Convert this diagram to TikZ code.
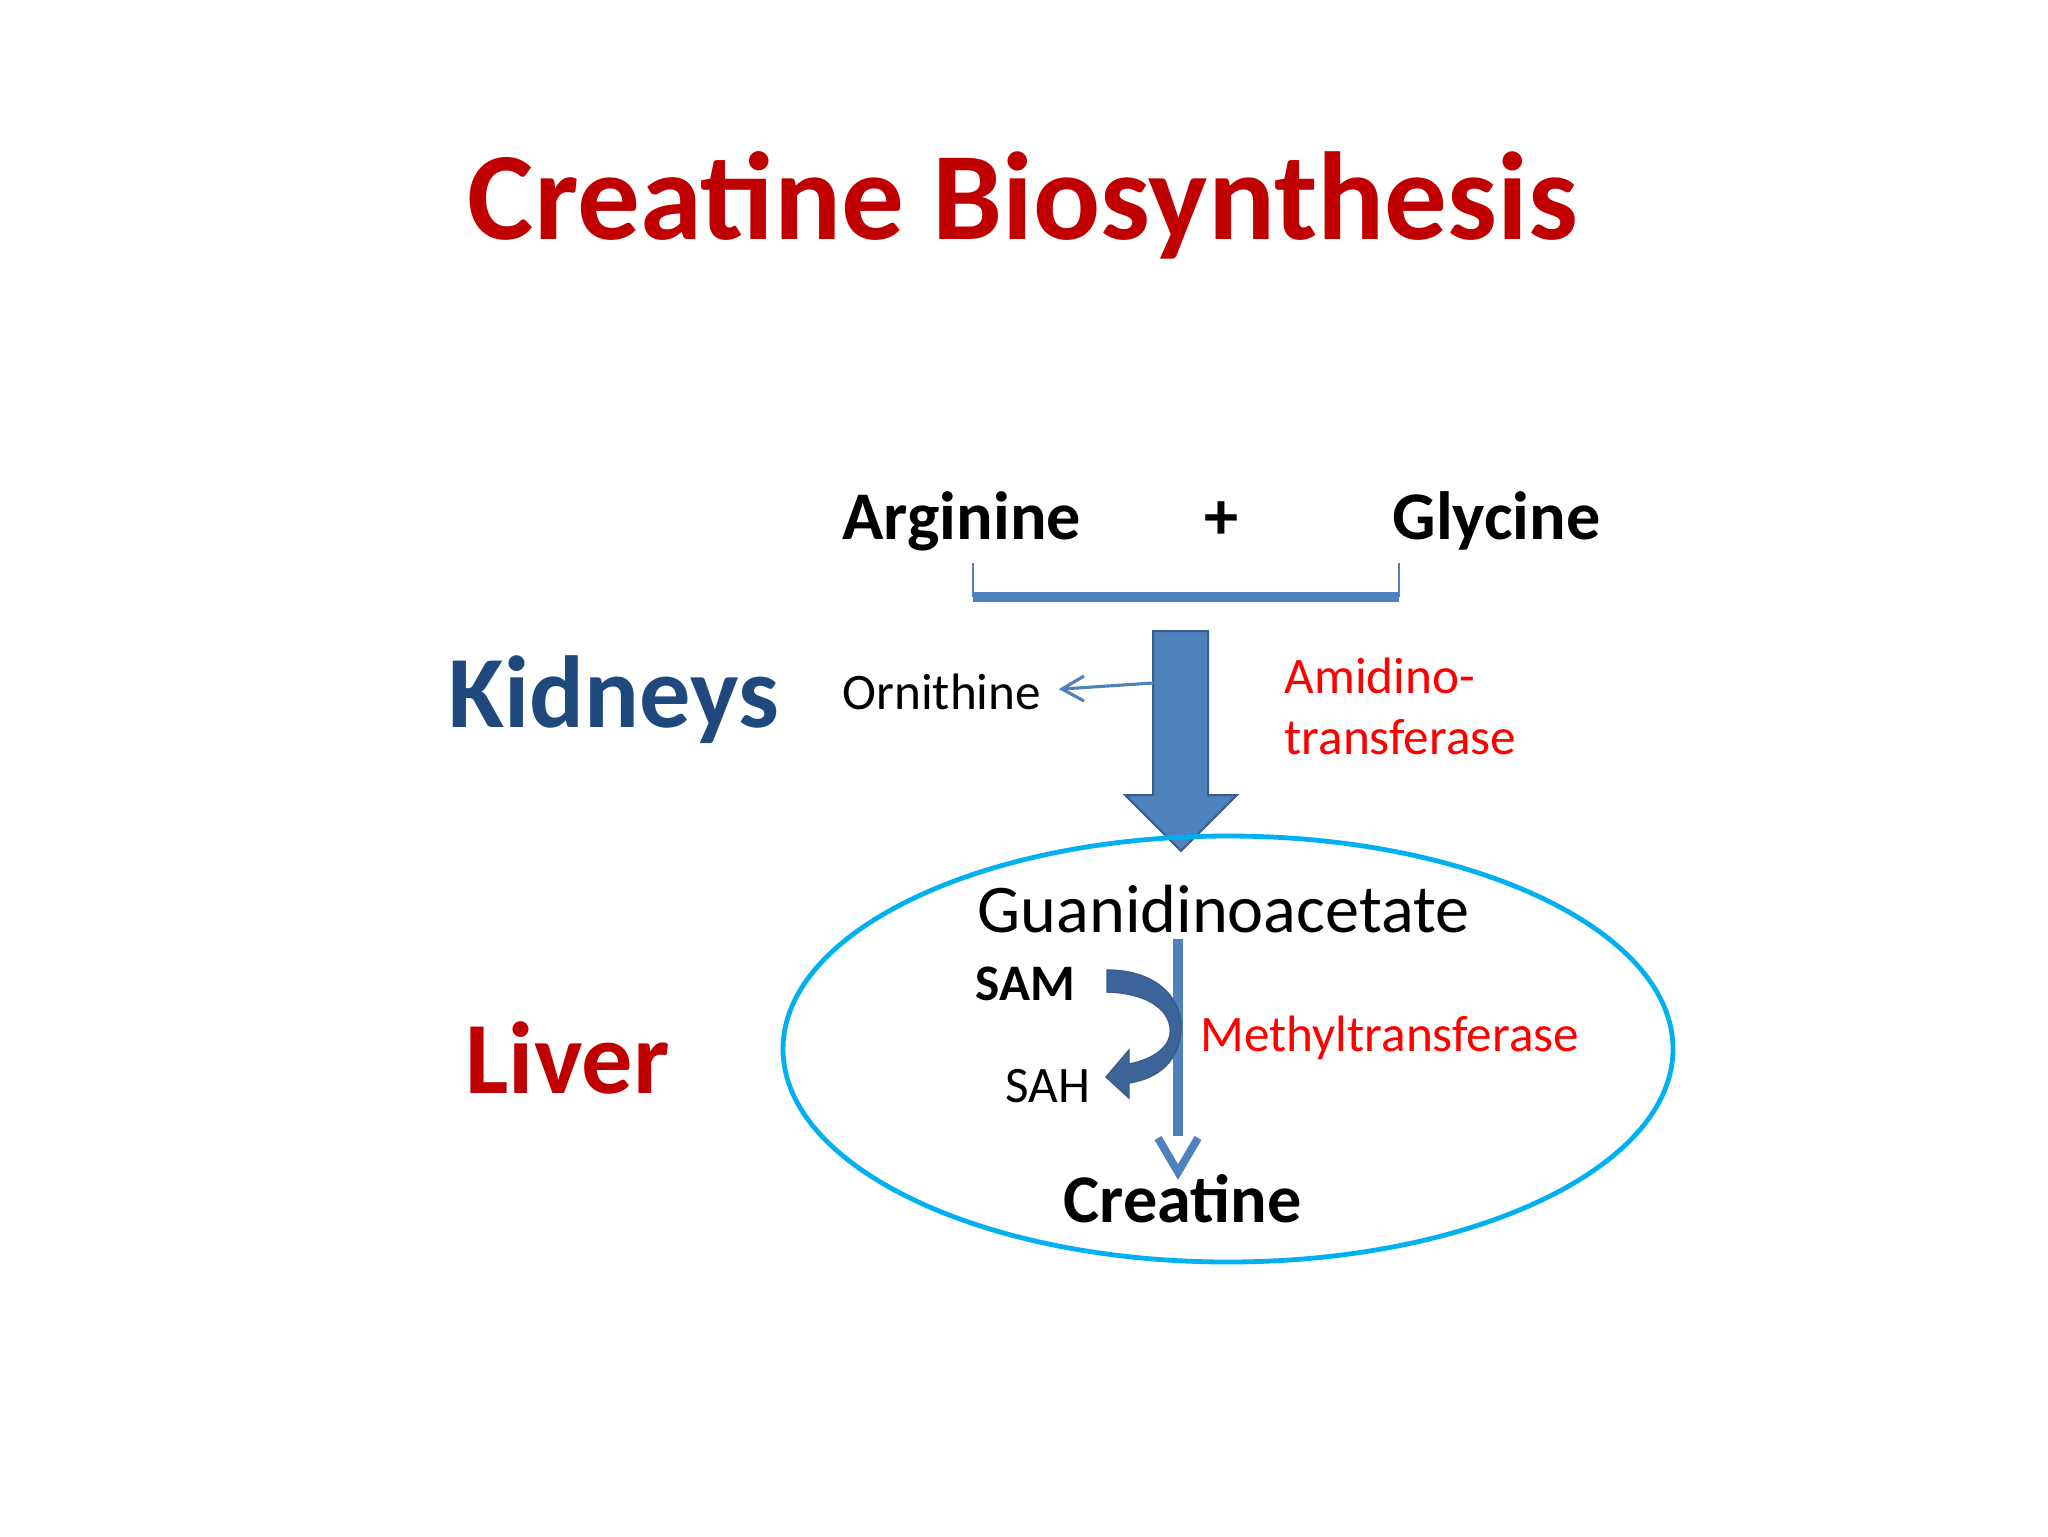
\documentclass[tikz,border=0pt]{standalone}
\usepackage{fontspec}
\setmainfont{Carlito}
\definecolor{titlered}{HTML}{C00000}
\definecolor{kidblue}{HTML}{1F497D}
\definecolor{arrowblue}{HTML}{4F81BD}
\definecolor{arrowborder}{HTML}{385D8A}
\definecolor{enzred}{HTML}{FF0000}
\definecolor{ellcyan}{HTML}{00B0F0}
\definecolor{curvblue}{HTML}{3D6498}
\newcommand{\fs}[1]{\fontsize{#1bp}{#1bp}\selectfont}
\begin{document}
\begin{tikzpicture}[x=0.0124023cm,y=-0.0124023cm,
  lbl/.style={inner sep=0pt,anchor=base west},
  thinblue/.style={draw=arrowblue,line width=1.1pt},
  thickblue/.style={draw=arrowblue,line width=3.2pt},
]
\useasboundingbox[fill=white] (0,0) rectangle (2048,1536);
% title
\node[inner sep=0pt,anchor=base,text=titlered] (title) at (1023,239) {\fs{44}\bfseries Creatine Biosynthesis};
% reactants
\node[lbl] (arg) at (842,539) {\fs{24}\bfseries Arginine};
\node[inner sep=0pt,anchor=base] (plus) at (1221,539) {\fs{24}\bfseries +};
\node[lbl] (gly) at (1392,539) {\fs{24}\bfseries Glycine};
% bracket
\coordinate (bl) at (973,563);
\coordinate (br) at (1399,563);
\coordinate (bbl) at (973,597);
\coordinate (bbr) at (1399,597);
\draw[draw=arrowblue,line width=0.7pt] (bl) -- (bbl);
\draw[draw=arrowblue,line width=0.7pt] (br) -- (bbr);
\draw[thickblue,line cap=butt] (bbl) -- (bbr);
% big block arrow
\filldraw[fill=arrowblue,draw=arrowborder,line width=0.7pt] (1153,631) -- (1208,631) -- (1208,795) -- (1237,795) -- (1181,851) -- (1125,795) -- (1153,795) -- cycle;
% side labels
\node[lbl,text=kidblue] (kid) at (448,727) {\fs{36}\bfseries Kidneys};
\node[lbl,text=titlered] (liver) at (465,1093) {\fs{36}\bfseries Liver};
% ornithine
\node[lbl] (orn) at (842,709) {\fs{18}Ornithine};
\coordinate (ornstart) at (1153,683);
\coordinate (orntip) at (1062,689);
\draw[thinblue] (ornstart) -- (orntip);
\draw[thinblue,line join=miter] (1084,676) -- (orntip) -- (1084,701);
% amidino
\node[lbl,text=enzred] (amid1) at (1284,693) {\fs{18}Amidino-};
\node[lbl,text=enzred] (amid2) at (1284,754) {\fs{18}transferase};
% ellipse
\draw[draw=ellcyan,line width=1.7pt] (1228,1049) ellipse [x radius=445,y radius=213];
% liver content
\node[lbl] (gaa) at (977,932) {\fs{24}Guanidinoacetate};
\node[lbl] (sam) at (975,1000) {\fs{18}\bfseries SAM};
\node[lbl] (sah) at (1005,1102) {\fs{18}SAH};
\node[lbl,text=enzred] (mt) at (1200,1051) {\fs{18}Methyltransferase};
\node[lbl] (cre) at (1063,1222) {\fs{24}\bfseries Creatine};
% methyltransferase arrow
\coordinate (vtop) at (1178,939);
\coordinate (vbot) at (1178,1136);
\coordinate (vtip) at (1178,1172);
\draw[thickblue,line cap=butt] (vtop) -- (vbot);
\draw[draw=arrowblue,line width=2.8pt,line join=miter] (1158,1138) -- (vtip) -- (1198,1138);
% curved SAM -> SAH arrow
\filldraw[fill=curvblue,draw=arrowborder,line width=0.5pt]
  (1107,970) .. controls (1158,970) and (1183,1000) .. (1181,1030)
  .. controls (1179,1060) and (1160,1078) .. (1129,1083)
  -- (1129,1098) -- (1106,1077) -- (1129,1050) -- (1129,1064)
  .. controls (1150,1060) and (1167,1050) .. (1170,1035)
  .. controls (1173,1012) and (1150,993) .. (1107,992) -- cycle;
\end{tikzpicture}
\end{document}
